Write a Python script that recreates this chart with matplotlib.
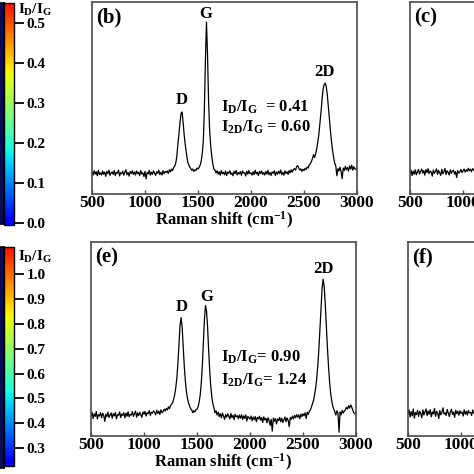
import numpy as np
import matplotlib
matplotlib.use("Agg")
import matplotlib.pyplot as plt
from matplotlib.colors import Normalize, LinearSegmentedColormap
from matplotlib.cm import ScalarMappable

plt.rcParams.update({
    'font.family': ['Liberation Serif', 'DejaVu Serif'],
    'font.weight': 'bold',
    'mathtext.fontset': 'custom',
    'mathtext.rm': 'Liberation Serif:bold',
    'mathtext.it': 'Liberation Serif:bold',
    'mathtext.bf': 'Liberation Serif:bold',
})

# ---------------- data ----------------
shift_b = np.arange(500, 3001, 10)
intensity_b = [
    11.2, 9.8, 12.1, 10.4, 11.6, 9.5, 12.3, 10.1, 11.0, 9.9,
    12.0, 10.3, 11.4, 9.2, 11.8, 10.6, 12.4, 9.7, 10.9, 11.5,
    10.2, 12.2, 9.6, 11.3, 10.8, 12.5, 9.4, 11.1, 10.5, 11.9,
    9.8, 11.4, 12.6, 10.0, 11.2, 9.3, 11.7, 10.7, 12.1, 10.2,
    11.5, 9.9, 12.0, 10.6, 11.3, 9.6, 12.2, 10.4, 11.0, 9.1,
    11.8, 7.9, 11.2, 10.5, 12.3, 9.8, 11.4, 10.2, 12.0, 10.9,
    9.7, 11.6, 10.8, 12.4, 10.1, 11.3, 9.9, 12.1, 10.6, 11.8,
    11.2, 12.0, 10.7, 12.6, 11.5, 13.0, 12.2, 13.8, 14.5, 16.0,
    19.5, 25.9, 31.0, 37.2, 42.0, 42.7, 37.0, 30.5, 25.5, 21.5,
    17.5, 15.6, 14.2, 13.4, 12.4, 13.0, 11.8, 12.6, 12.2, 13.5,
    13.0, 13.8, 15.0, 17.0, 21.0, 27.5, 44.0, 70.0, 89.6, 72.0,
    48.0, 33.0, 25.0, 19.5, 15.5, 13.0, 12.5, 11.0, 12.1, 10.3,
    11.6, 9.8, 12.2, 10.5, 11.3, 10.0, 12.0, 9.6, 11.4, 10.8,
    12.1, 10.2, 11.0, 9.5, 11.8, 10.6, 12.3, 9.9, 11.2, 10.4,
    11.7, 9.7, 12.0, 10.9, 11.1, 9.4, 11.9, 10.3, 12.2, 10.6,
    11.0, 9.8, 11.6, 10.1, 12.4, 10.5, 11.3, 9.6, 11.8, 10.7,
    12.0, 10.2, 11.1, 9.9, 11.7, 10.4, 12.3, 10.0, 11.2, 9.7,
    11.5, 10.8, 12.1, 9.6, 11.4, 10.3, 11.9, 10.6, 12.5, 10.1,
    11.3, 9.8, 12.0, 10.7, 11.6, 10.2, 12.2, 11.0, 12.6, 11.4,
    12.8, 13.2, 12.4, 14.2, 14.8, 13.6, 12.5, 13.1, 11.8, 12.9,
    12.2, 13.4, 12.7, 14.0, 13.5, 15.2, 15.8, 17.0, 18.5, 20.5,
    19.0, 21.0, 23.5, 27.0, 31.0, 36.5, 42.5, 49.0, 54.5, 57.0,
    57.8, 56.0, 51.5, 45.5, 39.0, 32.5, 27.0, 22.5, 19.0, 16.0,
    14.5, 9.5, 13.2, 12.0, 14.0, 11.5, 8.0, 13.5, 12.2, 14.4,
    12.6, 13.8, 11.9, 14.6, 13.0, 15.0, 12.4, 14.2, 13.1, 12.8,
    13.5,
]

shift_e = np.arange(500, 3001, 10)
intensity_e = [
    10.5, 12.2, 9.0, 11.4, 10.1, 12.6, 8.8, 11.0, 10.3, 12.0,
    9.4, 11.7, 10.6, 7.5, 11.2, 10.0, 12.3, 9.6, 10.8, 11.9,
    9.2, 11.5, 10.4, 12.1, 8.9, 11.0, 10.7, 12.4, 9.5, 11.3,
    10.6, 12.0, 9.3, 11.8, 10.2, 12.5, 9.9, 11.1, 10.8, 12.6,
    10.1, 11.6, 12.8, 9.7, 11.9, 10.5, 12.2, 11.0, 9.6, 12.4,
    11.2, 12.7, 10.3, 12.0, 11.5, 13.1, 10.6, 12.3, 11.8, 13.0,
    12.2, 10.9, 13.3, 11.6, 12.8, 11.1, 13.5, 12.0, 12.6, 13.8,
    12.9, 14.2, 13.4, 15.0, 14.1, 15.6, 16.5, 17.2, 19.0, 21.5,
    25.0, 30.0, 37.5, 47.0, 57.0, 61.0, 56.0, 46.0, 36.0, 28.5,
    23.0, 19.5, 17.0, 15.5, 14.0, 13.5, 12.0, 13.0, 12.4, 13.6,
    13.8, 15.0, 17.5, 21.0, 27.0, 36.0, 48.0, 60.0, 67.2, 64.5,
    56.0, 44.0, 33.5, 25.5, 20.0, 16.5, 14.5, 12.0, 13.0, 10.8,
    12.2, 10.0, 11.5, 9.4, 11.8, 10.3, 8.6, 11.0, 9.7, 11.4,
    10.2, 8.8, 11.6, 9.5, 10.7, 8.4, 11.2, 9.9, 10.5, 8.9,
    10.8, 9.2, 11.0, 8.6, 10.4, 9.0, 10.9, 7.8, 10.1, 9.4,
    8.7, 10.3, 7.9, 9.8, 8.4, 10.0, 7.4, 9.6, 8.8, 10.2,
    8.1, 9.5, 7.0, 9.9, 8.3, 9.1, 6.8, 9.4, 8.0, 5.5,
    8.6, 2.5, 9.2, 7.6, 9.0, 6.2, 8.8, 7.9, 9.6, 7.3,
    9.1, 6.9, 8.5, 9.8, 7.4, 9.3, 8.1, 4.8, 9.5, 8.6,
    10.2, 8.8, 10.6, 9.4, 11.0, 9.7, 10.9, 8.9, 11.3, 10.0,
    11.5, 10.4, 12.0, 9.0, 12.3, 11.1, 12.8, 13.5, 15.0, 16.8,
    18.5, 21.5, 25.0, 30.0, 36.5, 45.0, 55.0, 66.0, 76.0, 80.8,
    77.0, 68.0, 57.0, 46.0, 36.5, 28.5, 22.5, 18.5, 15.5, 13.8,
    12.5, 10.8, 13.0, 11.6, 2.0, 12.4, 10.9, 13.2, 11.8, 12.9,
    13.5, 14.8, 13.9, 15.6, 14.4, 16.0, 14.9, 13.2, 12.0, 11.4,
    12.2,
]

shift_c = np.arange(500, 1201, 10)
intensity_c = [
    10.8, 12.4, 9.6, 11.9, 10.3, 12.6, 10.0, 11.5, 12.8, 10.4,
    11.7, 13.0, 10.9, 12.2, 9.8, 12.7, 11.1, 13.2, 10.6, 12.0,
    11.4, 9.3, 12.5, 10.7, 11.8, 13.1, 10.2, 12.3, 11.0, 9.7,
    12.9, 10.5, 11.6, 13.3, 10.1, 12.1, 11.3, 9.9, 12.6, 10.8,
    11.9, 12.4, 10.3, 11.7, 8.6, 12.2, 10.9, 11.5, 12.8, 11.2,
    12.0, 13.0, 11.4, 12.6, 11.8, 13.4, 12.1, 12.9, 11.6, 13.2,
    12.5, 11.9, 13.6, 12.3, 13.1, 12.7, 13.8, 12.4, 13.3, 12.9,
    13.7,
]

shift_f = np.arange(500, 1201, 10)
intensity_f = [
    11.5, 13.4, 9.8, 12.6, 10.4, 13.9, 9.2, 12.1, 11.0, 13.2,
    10.1, 12.8, 11.7, 9.4, 13.5, 10.8, 12.3, 14.0, 10.5, 12.9,
    11.2, 13.6, 9.9, 12.4, 11.4, 14.2, 10.2, 12.7, 11.8, 9.0,
    13.1, 10.9, 12.2, 14.5, 11.3, 12.0, 10.6, 13.7, 11.9, 10.0,
    12.5, 13.8, 11.1, 12.3, 9.6, 13.3, 11.5, 12.8, 10.7, 13.0,
    11.6, 12.4, 10.3, 13.5, 11.2, 12.7, 10.8, 13.1, 11.9, 12.2,
    10.6, 13.4, 11.7, 12.5, 10.9, 13.0, 11.4, 12.6, 11.0, 12.9,
    11.8,
]

ratio_b = ("0.41", "0.60")
ratio_e = ("0.90", "1.24")
cbar_ticks_top = [0.0, 0.1, 0.2, 0.3, 0.4, 0.5]
cbar_ticks_bot = [0.3, 0.4, 0.5, 0.6, 0.7, 0.8, 0.9, 1.0]
xticks = [500, 1000, 1500, 2000, 2500, 3000]

# ---------------- figure ----------------
W = H = 474
fig = plt.figure(figsize=(W / 100, H / 100), dpi=100)


def px_axes(left, top, right, bottom):
    return fig.add_axes([left / W, 1 - bottom / H, (right - left) / W, (bottom - top) / H])


jet = plt.get_cmap('jet')
cmap = LinearSegmentedColormap.from_list('jet_trunc', jet(np.linspace(0.11, 0.89, 256)))

SPINE = '#4a4a4a'


def style_spec(ax):
    ax.set_xlim(500, 3000)
    ax.set_ylim(0, 100)
    ax.set_yticks([])
    ax.set_xticks(xticks)
    ax.tick_params(axis='x', direction='in', length=3, width=1, color=SPINE,
                   labelsize=12.5, pad=1)
    for lab in ax.get_xticklabels():
        lab.set_fontweight('bold')
    for s in ax.spines.values():
        s.set_color(SPINE)
        s.set_linewidth(1.2)


# left image strips (edge of maps)
for (t, b) in [(0, 230), (244, 474)]:
    a = px_axes(-10, t + 3, 4, b - 6)
    a.set_facecolor('#0b0b55')
    a.set_xticks([]); a.set_yticks([])
    for s in a.spines.values():
        s.set_color('black'); s.set_linewidth(1.2)

# colorbars
def add_cbar(top, bottom, vmin, vmax, ticks, label_y):
    cax = px_axes(4, top, 14, bottom)
    sm = ScalarMappable(norm=Normalize(vmin, vmax), cmap=cmap)
    cb = fig.colorbar(sm, cax=cax, ticks=ticks)
    cb.outline.set_linewidth(1.0)
    cb.ax.tick_params(length=7, width=1.3, labelsize=11, pad=2)
    cb.ax.set_yticklabels(['%.1f' % t for t in ticks], fontweight='bold')
    fig.text(18 / W, 1 - label_y / H, r'$I_D/I_G$', fontsize=11, ha='left', va='center')

add_cbar(3, 225, -0.005, 0.55, cbar_ticks_top, 10)
add_cbar(247, 466, 0.228, 1.109, cbar_ticks_bot, 257)

# panel (b)
ax_b = px_axes(92, 2, 357, 194)
ax_b.plot(shift_b, intensity_b, color='black', lw=0.9)
style_spec(ax_b)
ax_b.set_xlabel('Raman shift (cm$^{-1}$)', fontsize=12, fontweight='bold', labelpad=-1)
ax_b.text(538, 92, '(b)', fontsize=15, ha='left', va='center')
ax_b.text(1346, 49, 'D', fontsize=12, ha='center', va='center')
ax_b.text(1575, 94, 'G', fontsize=12, ha='center', va='center')
ax_b.text(2698, 63.5, '2D', fontsize=12, ha='center', va='center')
ax_b.text(1720, 45.3, r'$I_D/I_G$  = ' + ratio_b[0], fontsize=12, ha='left', va='center')
ax_b.text(1720, 34.9, r'$I_{2D}/I_G$ = ' + ratio_b[1], fontsize=12, ha='left', va='center')

# panel (e)
ax_e = px_axes(91, 242, 356, 436)
ax_e.plot(shift_e, intensity_e, color='black', lw=0.9)
style_spec(ax_e)
ax_e.set_xlabel('Raman shift (cm$^{-1}$)', fontsize=12, fontweight='bold', labelpad=-1)
ax_e.text(538, 92, '(e)', fontsize=15, ha='left', va='center')
ax_e.text(1352, 66.5, 'D', fontsize=12, ha='center', va='center')
ax_e.text(1590, 71.6, 'G', fontsize=12, ha='center', va='center')
ax_e.text(2689, 86, '2D', fontsize=12, ha='center', va='center')
ax_e.text(1730, 40.7, r'$I_D/I_G$= ' + ratio_e[0], fontsize=12, ha='left', va='center')
ax_e.text(1730, 28.9, r'$I_{2D}/I_G$= ' + ratio_e[1], fontsize=12, ha='left', va='center')

# panels (c) and (f), cut by the figure edge as in the reference
ax_c = px_axes(410, 2, 675, 194)
ax_c.plot(shift_c, intensity_c, color='black', lw=0.9)
style_spec(ax_c)
ax_c.text(538, 92, '(c)', fontsize=15, ha='left', va='center')

ax_f = px_axes(408, 242, 673, 436)
ax_f.plot(shift_f, intensity_f, color='black', lw=0.9)
style_spec(ax_f)
ax_f.text(538, 92, '(f)', fontsize=15, ha='left', va='center')

fig.savefig('out.png', dpi=100)
